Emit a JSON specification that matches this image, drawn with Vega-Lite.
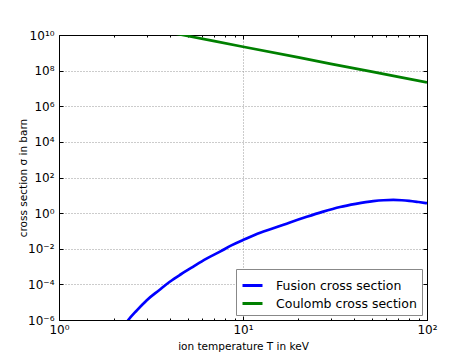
{
  "$schema": "https://vega.github.io/schema/vega-lite/v6.json",
  "width": 368,
  "height": 285,
  "autosize": {"type": "none"},
  "padding": {"left": 59, "top": 35, "right": 47, "bottom": 35},
  "config": {
    "font": "DejaVu Sans",
    "view": {"stroke": "#000", "strokeWidth": 1},
    "axis": {
      "domainColor": "#000",
      "tickColor": "#000",
      "labelColor": "#000",
      "titleColor": "#000",
      "labelFont": "DejaVu Sans",
      "titleFont": "DejaVu Sans",
      "labelFontSize": 12,
      "titleFontSize": 10.5,
      "titleFontWeight": "normal",
      "gridColor": "#999",
      "gridDash": [1, 2],
      "gridWidth": 1
    },
    "legend": {
      "orient": "bottom-right",
      "offset": 5,
      "strokeColor": "#888",
      "fillColor": "#fff",
      "padding": 5,
      "labelFont": "DejaVu Sans",
      "labelFontSize": 12.5,
      "labelColor": "#000",
      "symbolType": "stroke",
      "symbolStrokeWidth": 3,
      "symbolSize": 400,
      "rowPadding": 0,
      "labelOffset": 12
    }
  },
  "datasets": {
    "fusion": [
      {"T": 2.2, "sigma": 3e-7, "series": "Fusion cross section"},
      {"T": 2.38, "sigma": 1e-6, "series": "Fusion cross section"},
      {"T": 2.65, "sigma": 3.5e-6, "series": "Fusion cross section"},
      {"T": 3.0, "sigma": 1.3e-5, "series": "Fusion cross section"},
      {"T": 3.5, "sigma": 4.7e-5, "series": "Fusion cross section"},
      {"T": 4.0, "sigma": 1.4e-4, "series": "Fusion cross section"},
      {"T": 4.6, "sigma": 3.7e-4, "series": "Fusion cross section"},
      {"T": 5.37, "sigma": 1e-3, "series": "Fusion cross section"},
      {"T": 6.3, "sigma": 2.7e-3, "series": "Fusion cross section"},
      {"T": 7.5, "sigma": 6.9e-3, "series": "Fusion cross section"},
      {"T": 8.7, "sigma": 0.016, "series": "Fusion cross section"},
      {"T": 10, "sigma": 0.031, "series": "Fusion cross section"},
      {"T": 12.4, "sigma": 0.08, "series": "Fusion cross section"},
      {"T": 14.6, "sigma": 0.14, "series": "Fusion cross section"},
      {"T": 18, "sigma": 0.3, "series": "Fusion cross section"},
      {"T": 22.2, "sigma": 0.62, "series": "Fusion cross section"},
      {"T": 27, "sigma": 1.17, "series": "Fusion cross section"},
      {"T": 33.7, "sigma": 2.2, "series": "Fusion cross section"},
      {"T": 41, "sigma": 3.3, "series": "Fusion cross section"},
      {"T": 51, "sigma": 4.7, "series": "Fusion cross section"},
      {"T": 58, "sigma": 5.3, "series": "Fusion cross section"},
      {"T": 65.6, "sigma": 5.5, "series": "Fusion cross section"},
      {"T": 73, "sigma": 5.3, "series": "Fusion cross section"},
      {"T": 80, "sigma": 4.9, "series": "Fusion cross section"},
      {"T": 90, "sigma": 4.2, "series": "Fusion cross section"},
      {"T": 100, "sigma": 3.6, "series": "Fusion cross section"}
    ],
    "coulomb": [
      {"T": 1, "sigma": 2.2e11, "series": "Coulomb cross section"},
      {"T": 2, "sigma": 5.5e10, "series": "Coulomb cross section"},
      {"T": 3, "sigma": 2.4e10, "series": "Coulomb cross section"},
      {"T": 4, "sigma": 1.4e10, "series": "Coulomb cross section"},
      {"T": 5, "sigma": 8.8e9, "series": "Coulomb cross section"},
      {"T": 7, "sigma": 4.5e9, "series": "Coulomb cross section"},
      {"T": 10, "sigma": 2.2e9, "series": "Coulomb cross section"},
      {"T": 20, "sigma": 5.5e8, "series": "Coulomb cross section"},
      {"T": 30, "sigma": 2.4e8, "series": "Coulomb cross section"},
      {"T": 50, "sigma": 8.8e7, "series": "Coulomb cross section"},
      {"T": 70, "sigma": 4.5e7, "series": "Coulomb cross section"},
      {"T": 100, "sigma": 2.2e7, "series": "Coulomb cross section"}
    ]
  },
  "layer": [
    {
      "data": {"name": "fusion"},
      "mark": {"type": "line", "strokeWidth": 2.7, "clip": true, "interpolate": "monotone"},
      "encoding": {
        "x": {
          "field": "T", "type": "quantitative",
          "scale": {"type": "log", "domain": [1, 100]},
          "axis": {
            "orient": "bottom",
            "title": "ion temperature T in keV",
            "titlePadding": 4,
            "values": [1, 2, 3, 4, 5, 6, 7, 8, 9, 10, 20, 30, 40, 50, 60, 70, 80, 90, 100],
            "labelExpr": "datum.value == 1 ? '10⁰' : datum.value == 10 ? '10¹' : datum.value == 100 ? '10²' : ''",
            "tickSize": {"condition": {"test": "datum.value == 1 || datum.value == 10 || datum.value == 100", "value": -4}, "value": -2},
            "gridOpacity": {"condition": {"test": "datum.value == 1 || datum.value == 10 || datum.value == 100", "value": 1}, "value": 0},
            "labelPadding": 8,
            "labelFlush": false,
            "labelOverlap": false
          }
        },
        "y": {
          "field": "sigma", "type": "quantitative",
          "scale": {"type": "log", "domain": [1e-6, 1e10]},
          "axis": {
            "orient": "left",
            "title": "cross section σ in barn",
            "titleX": -36,
            "titleY": 142.5,
            "titleAlign": "center",
            "titleBaseline": "middle",
            "titleAngle": 270,
            "values": [1e-6, 1e-4, 1e-2, 1, 100, 1e4, 1e6, 1e8, 1e10],
            "labelExpr": "['10⁻⁶','10⁻⁵','10⁻⁴','10⁻³','10⁻²','10⁻¹','10⁰','10¹','10²','10³','10⁴','10⁵','10⁶','10⁷','10⁸','10⁹','10¹⁰'][round(log(datum.value)/LN10) + 6]",
            "tickSize": -4,
            "labelPadding": 9,
            "labelFlush": false,
            "labelOverlap": false
          }
        },
        "color": {
          "field": "series", "type": "nominal",
          "scale": {"domain": ["Fusion cross section", "Coulomb cross section"], "range": ["#0000ff", "#008000"]},
          "legend": {"title": null}
        }
      }
    },
    {
      "data": {"name": "coulomb"},
      "mark": {"type": "line", "strokeWidth": 2.7, "clip": true},
      "encoding": {
        "x": {
          "field": "T", "type": "quantitative",
          "scale": {"type": "log", "domain": [1, 100]},
          "axis": {
            "orient": "top",
            "title": null,
            "labels": false,
            "grid": false,
            "values": [1, 2, 3, 4, 5, 6, 7, 8, 9, 10, 20, 30, 40, 50, 60, 70, 80, 90, 100],
            "tickSize": {"condition": {"test": "datum.value == 1 || datum.value == 10 || datum.value == 100", "value": -4}, "value": -2}
          }
        },
        "y": {
          "field": "sigma", "type": "quantitative",
          "scale": {"type": "log", "domain": [1e-6, 1e10]},
          "axis": {
            "orient": "right",
            "title": null,
            "labels": false,
            "grid": false,
            "values": [1e-6, 1e-4, 1e-2, 1, 100, 1e4, 1e6, 1e8, 1e10],
            "tickSize": -4
          }
        },
        "color": {
          "field": "series", "type": "nominal",
          "scale": {"domain": ["Fusion cross section", "Coulomb cross section"], "range": ["#0000ff", "#008000"]},
          "legend": {"title": null}
        }
      }
    }
  ],
  "resolve": {"axis": {"x": "independent", "y": "independent"}}
}
